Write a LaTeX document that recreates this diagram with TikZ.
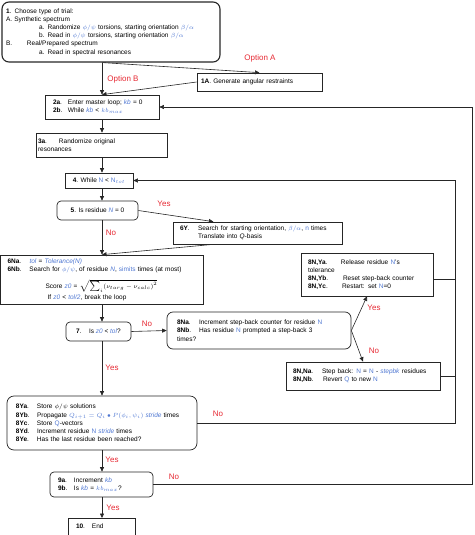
\documentclass[tikz,border=0pt]{standalone}
\usepackage{fontspec}
\setmainfont{Liberation Sans}
\usetikzlibrary{arrows.meta,calc}
\definecolor{tblue}{RGB}{80,120,210}
\definecolor{tred}{RGB}{230,40,50}
\newcommand{\bl}[1]{\textcolor{tblue}{#1}}
\newcommand{\bli}[1]{\textcolor{tblue}{\textit{#1}}}
\newcommand{\lbx}[2]{\makebox[#2pt][l]{\textbf{#1}.}}
\newcommand{\fs}{\fontsize{6.5}{8.2}\selectfont}
\tikzset{
  box/.style={draw=black!85, line width=0.7pt, inner ysep=2pt, align=left, font=\fs},
  rbox/.style={box, rounded corners=4pt},
  arr/.style={-{Triangle[length=4.5pt,width=4pt]}, line width=0.6pt, draw=black!85},
  conn/.style={line width=0.6pt, draw=black!85},
  lbl/.style={text=tred, font=\fontsize{8}{9}\selectfont, inner sep=0pt},
}
\begin{document}
\begin{tikzpicture}[x=1pt,y=-1pt]
\useasboundingbox (0,0) rectangle (474,535);
\coordinate (xr) at (455,0);
\coordinate (xo) at (472,0);

\node[box, rounded corners=7pt, line width=1.1pt, minimum width=218, minimum height=60, inner xsep=4pt, text width=210] (b1) at (111,32) {%
\textbf{1}. Choose type of trial:\\
A. Synthetic spectrum\\
\hspace*{33pt}a. Randomize \bl{$\phi/\psi$} torsions, starting orientation \bl{$\beta/\alpha$}\\
\hspace*{33pt}b. Read in \bl{$\phi/\psi$} torsions, starting orientation \bl{$\beta/\alpha$}\\
\makebox[21pt][l]{B.}Real/Prepared spectrum\\
\hspace*{33pt}a. Read in spectral resonances};

\node[box, minimum width=125, minimum height=18, inner xsep=4pt, text width=117] (b1A) at (259.5,82) {\textbf{1A}. Generate angular restraints};

\node[box, minimum width=114, minimum height=24, inner xsep=8pt, text width=98] (b2) at (102,107) {%
\lbx{2a}{15}Enter master loop; \bli{kb} = 0\\
\lbx{2b}{15}While \bli{kb} < \bl{$kb_{max}$}};

\node[box, minimum width=131, minimum height=24, inner xsep=2pt, text width=127] (b3) at (101.5,145) {%
\lbx{3a}{21}Randomize original\\ resonances};

\node[box, minimum width=68, minimum height=15, align=center] (b4) at (99,180.5) {\textbf{4}. While \bl{N} < \bl{N$_{tot}$}};

\node[rbox, minimum width=81, minimum height=19, align=center] (b5) at (97.5,210.5) {\textbf{5}. Is residue \bli{N} = 0};

\node[box, minimum width=169, minimum height=22, inner xsep=7pt, text width=155] (b6Y) at (257.5,233) {%
\lbx{6Y}{18}Search for starting orientation, \bl{$\beta/\alpha$}, \bl{n} times\\
\hspace*{18pt}Translate into \textit{Q}-basis};

\node[box, minimum width=203, minimum height=49, inner xsep=7pt, inner ysep=1pt, text width=189] (b6N) at (102,279.5) {%
\lbx{6Na}{22}\bli{tol} = \bli{Tolerance(N)}\\
\lbx{6Nb}{22}Search for \bl{$\phi/\psi$}, of residue \bli{N}, \bl{simits} times (at most)\\[6pt]
\hspace*{38pt}Score \bli{z0} = $\sqrt{\textstyle\sum_i(\nu_{targ}-\nu_{calc})^2}$\\[1pt]
\hspace*{40pt}If \bli{z0} < \bli{tol/2}, break the loop};

\node[rbox, minimum width=65, minimum height=19, align=center] (b7) at (98.5,331.5) {\textbf{7}.\hspace{5pt} Is \bli{z0} < \bli{tol}?};

\node[rbox, rounded corners=6pt, minimum width=184, minimum height=37, inner xsep=10pt, text width=164] (b8N) at (259,330.5) {%
\lbx{8Na}{22}Increment step-back counter for residue \bl{N}\\
\lbx{8Nb}{22}Has residue \bl{N} prompted a step-back 3\\
times?};

\node[box, minimum width=132, minimum height=43, inner xsep=7pt, text width=118] (b8NY) at (367,274.5) {%
\lbx{8N,Ya}{33}Release residue \bl{N}'s\\
tolerance\\
\lbx{8N,Yb}{35}Reset step-back counter\\
\lbx{8N,Yc}{34}Restart: set \bl{N}=0};

\node[box, minimum width=154, minimum height=28, inner xsep=7pt, text width=140] (b8NN) at (363,376) {%
\lbx{8N,Na}{29}Step back: \bl{N} = \bl{N} - \bli{stepbk} residues\\
\lbx{8N,Nb}{30}Revert \bl{Q} to new \bl{N}};

\node[rbox, rounded corners=7pt, minimum width=190, minimum height=54, inner xsep=9pt, text width=172] (b8Y) at (102,423) {%
\lbx{8Ya}{21}Store $\phi/\psi$ solutions\\
\lbx{8Yb}{21}Propagate \bl{$Q_{i+1}=Q_i\bullet P(\phi_i,\psi_i)$} \bli{stride} times\\
\lbx{8Yc}{21}Store \bl{Q}-vectors\\
\lbx{8Yd}{21}Increment residue \bl{N} \bli{stride} times\\
\lbx{8Ye}{21}Has the last residue been reached?};

\node[rbox, minimum width=103, minimum height=25, inner xsep=8pt, text width=87] (b9) at (101.5,484.5) {%
\lbx{9a}{16}Increment \bli{kb}\\
\lbx{9b}{16}Is \bli{kb} = \bl{$kb_{max}$}?};

\node[box, anchor=north, minimum width=67, inner xsep=8pt, text width=51, text height=8pt, text depth=20pt] (b10) at (101.5,518) {\lbx{10}{16}End};

% connectors
\draw[arr] (b2.north |- b1.south) -- (b2.north);
\draw[arr] (b2.north |- b1.south) -- (b1A.north);
\draw[arr] (b1A.west) -- (b2.north);
\draw[arr] (b2.south) -- (b2.south |- b3.north);
\draw[arr] (b2.south |- b3.south) -- (b2.south |- b4.north);
\draw[arr] (b2.south |- b4.south) -- (b2.south |- b5.north);
\draw[arr] (b5.east) -- ($(b6Y.north west)!0.24!(b6Y.north east)$);
\draw[arr] (b2.south |- b5.south) -- (b6N.north);
\draw[arr] ($(b6Y.south west)!0.24!(b6Y.south east)$) -- (b6N.north);
\draw[arr] (b6N.south) -- (b6N.south |- b7.north);
\draw[arr] (b7.east) -- (b8N.west);
\draw[arr] (b8N.east) -- (b8NY.south);
\draw[arr] (b8N.east) -- (b8NN.north);
\draw[arr] (b6N.south |- b7.south) -- (b8Y.north);
\draw[arr] (b8Y.south) -- (b8Y.south |- b9.north);
\draw[arr] (b8Y.south |- b9.south) -- (b8Y.south |- b10.north);
\draw[arr] (b8Y.east) -- (b8Y.east -| xr) -- (xr |- b4.east) -- (b4.east);
\coordinate (pY) at ($(b8NY.north east)!0.6!(b8NY.south east)$);
\draw[conn] (pY) -- (pY -| xr);
\draw[conn] (b8NN.east) -- (b8NN.east -| xr);
\draw[arr] (b9.east) -- (b9.east -| xo) -- (xo |- b2.east) -- (b2.east);

% labels
\node[lbl] (lA) at (260,58) {Option A};
\node[lbl] (lB) at (123,79) {Option B};
\node[lbl] (l5y) at (164,204) {Yes};
\node[lbl] (l5n) at (111,233) {No};
\node[lbl] (l7n) at (147,324) {No};
\node[lbl] (l8y) at (374,308) {Yes};
\node[lbl] (l8n) at (374,351) {No};
\node[lbl] (l7y) at (112,368) {Yes};
\node[lbl] (l8Yn) at (218,414) {No};
\node[lbl] (l8Yy) at (112,460) {Yes};
\node[lbl] (l9n) at (174,477) {No};
\node[lbl] (l9y) at (113,508) {Yes};
\end{tikzpicture}
\end{document}
